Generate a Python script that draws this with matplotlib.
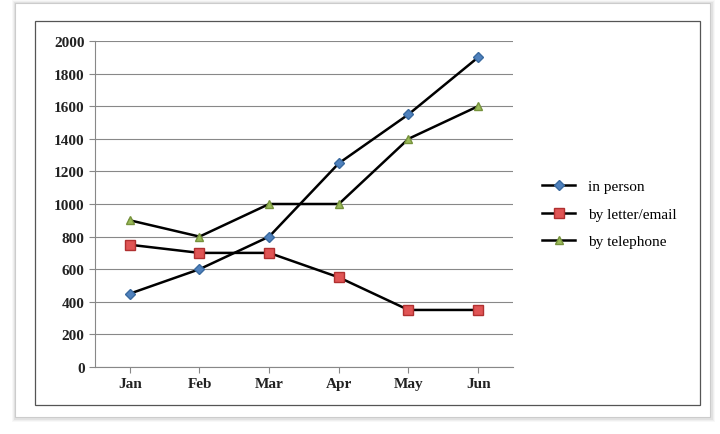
import matplotlib
matplotlib.use("Agg")
import matplotlib.pyplot as plt
from matplotlib.patches import Rectangle

months = ["Jan", "Feb", "Mar", "Apr", "May", "Jun"]
in_person = [450, 600, 800, 1250, 1550, 1900]
by_letter = [750, 700, 700, 550, 350, 350]
by_phone = [900, 800, 1000, 1000, 1400, 1600]
yticks = list(range(0, 2001, 200))

plt.rcParams["font.family"] = ["Liberation Serif", "DejaVu Serif"]

W, H = 720, 435
fig = plt.figure(figsize=(W / 100, H / 100), dpi=100)
fig.patch.set_facecolor("white")

# outer card with soft shadow
for i, a in enumerate([0.05, 0.08, 0.12]):
    d = 3 - i
    fig.patches.append(Rectangle(((15 - d) / W, 1 - (420 + d) / H), (697 + 2 * d) / W, (416 + 2 * d) / H,
                                 transform=fig.transFigure, facecolor="#888888", alpha=a,
                                 edgecolor="none", zorder=-3))
fig.patches.append(Rectangle((15 / W, 1 - 418 / H), 695 / W, 414 / H, transform=fig.transFigure,
                             facecolor="white", edgecolor="#cccccc", lw=0.8, zorder=-2))
fig.patches.append(Rectangle((35 / W, 1 - 406 / H), 665 / W, 384 / H, transform=fig.transFigure,
                             facecolor="white", edgecolor="#555555", lw=0.9, zorder=-1))

ax = fig.add_axes([95 / W, 1 - 368 / H, 418 / W, 326 / H])
ax.set_zorder(5)
ax.patch.set_alpha(0)
x = range(len(months))
ax.plot(x, in_person, color="black", lw=1.8, marker="D", ms=5, mfc="#4f81bd", mec="#3a6a9f", label="in person")
ax.plot(x, by_letter, color="black", lw=1.8, marker="s", ms=7, mfc="#e05555", mec="#b03030", label="by letter/email")
ax.plot(x, by_phone, color="black", lw=1.8, marker="^", ms=6, mfc="#9bbb59", mec="#76923c", label="by telephone")

ax.set_xlim(-0.5, len(months) - 0.5)
ax.set_ylim(0, 2000)
ax.set_yticks(yticks)
ax.set_xticks(list(x))
ax.set_xticklabels(months)
ax.grid(axis="y", color="#888888", lw=0.8)
ax.set_axisbelow(True)
for s in ["top", "right"]:
    ax.spines[s].set_visible(False)
ax.spines["left"].set_color("#888888")
ax.spines["bottom"].set_color("#888888")
ax.tick_params(labelsize=11, color="#888888", length=4)
for t in ax.get_xticklabels() + ax.get_yticklabels():
    t.set_fontweight("bold")
    t.set_color("#222222")

leg = fig.legend(loc="center left", bbox_to_anchor=(528 / W, 1 - 215 / H), frameon=False,
                 fontsize=11, handlelength=2.2, labelspacing=0.9)
leg.set_zorder(6)

fig.savefig("out.png", dpi=100)
